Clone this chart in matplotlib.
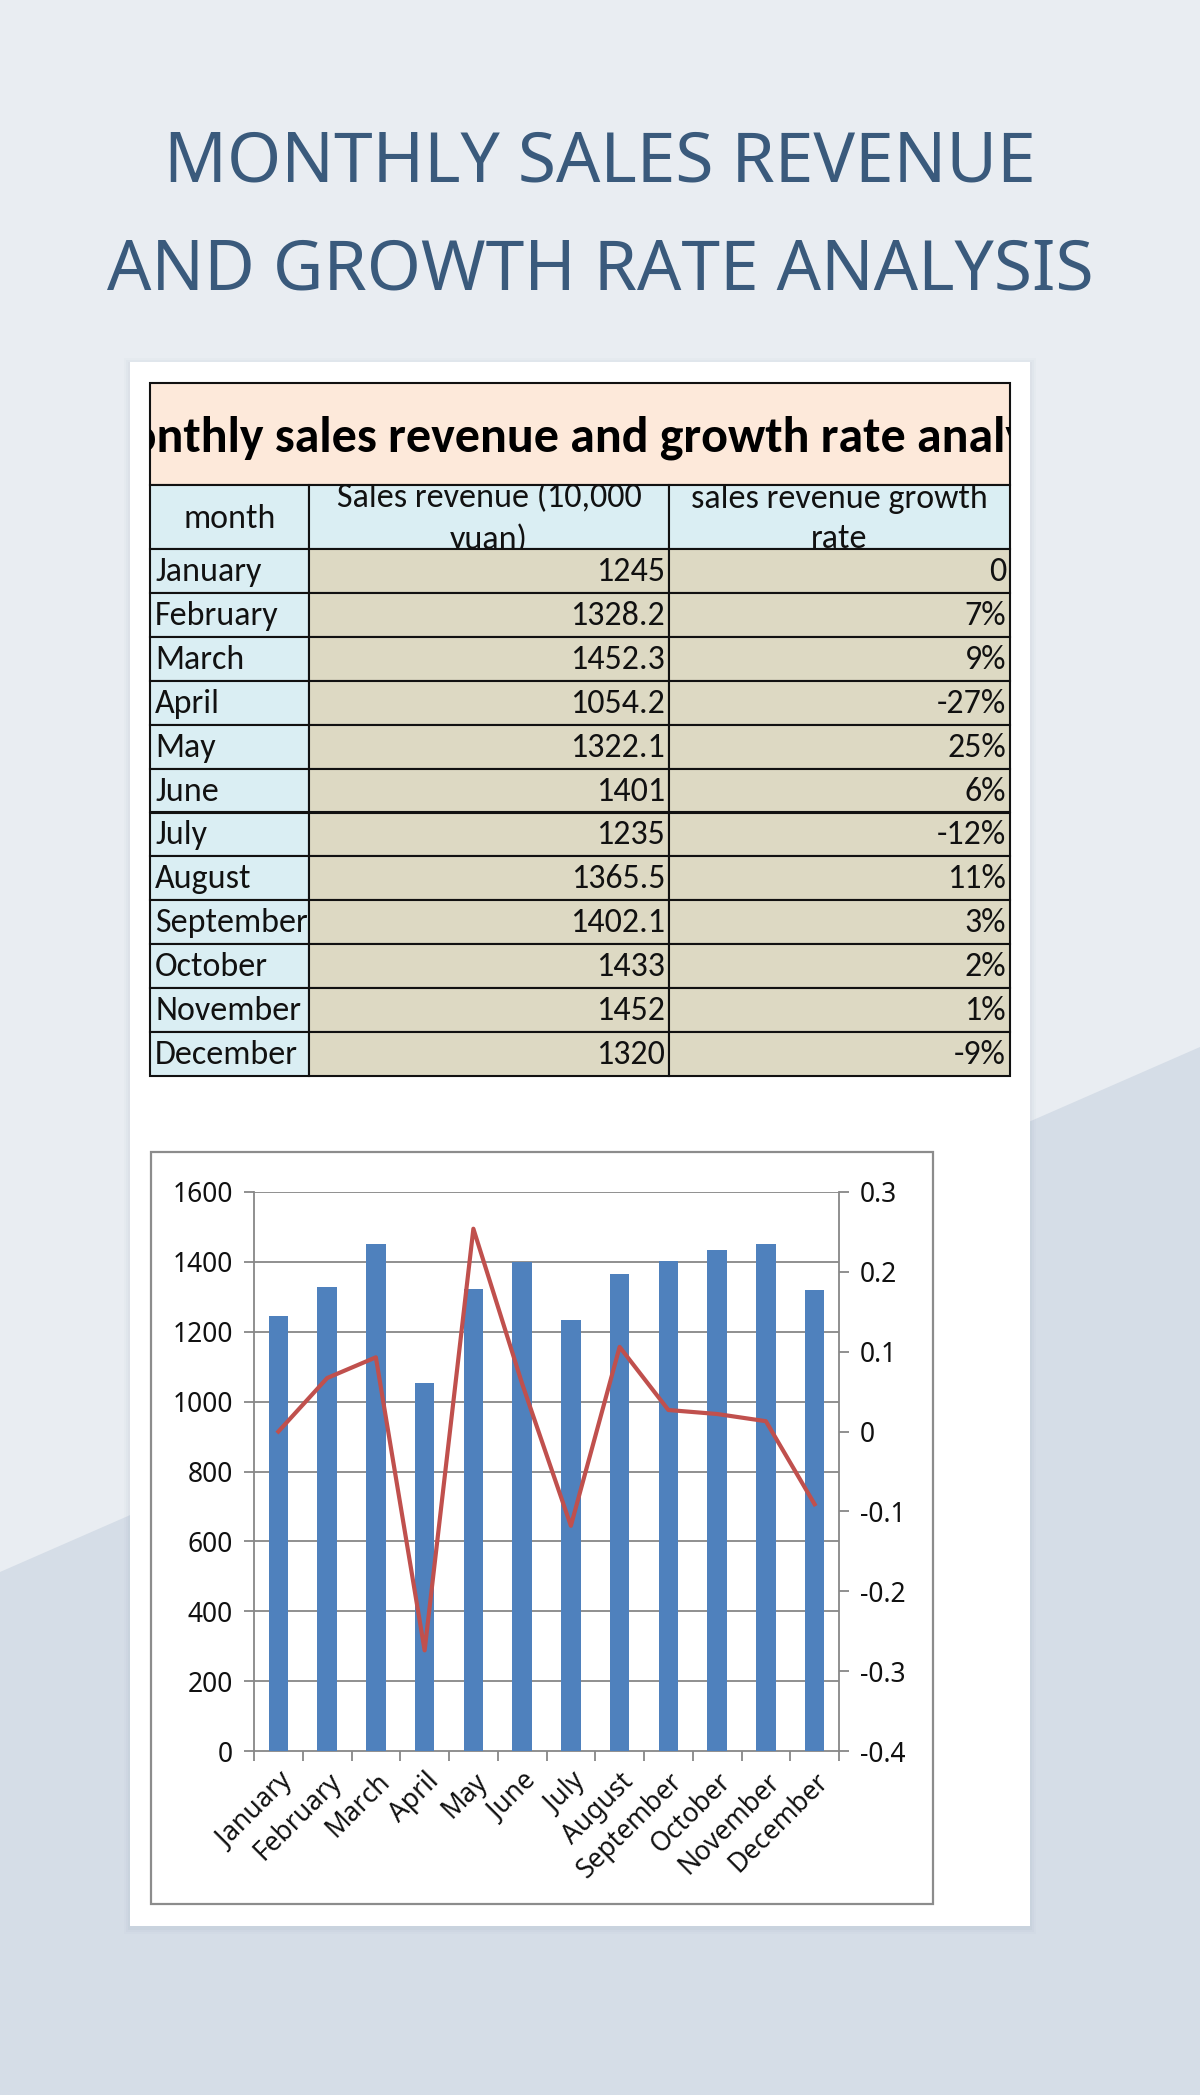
import matplotlib
matplotlib.use("Agg")
import matplotlib.pyplot as plt
from matplotlib.patches import Rectangle, Polygon
from matplotlib import font_manager
import numpy as np

# ---------------- data ----------------
months = ["January", "February", "March", "April", "May", "June", "July",
          "August", "September", "October", "November", "December"]
revenue = [1245, 1328.2, 1452.3, 1054.2, 1322.1, 1401, 1235, 1365.5, 1402.1, 1433, 1452, 1320]
revenue_labels = ["1245", "1328.2", "1452.3", "1054.2", "1322.1", "1401", "1235",
                  "1365.5", "1402.1", "1433", "1452", "1320"]
growth = [0.0, 0.067, 0.093, -0.274, 0.254, 0.060, -0.118, 0.106, 0.027, 0.022, 0.013, -0.091]
growth_labels = ["0", "7%", "9%", "-27%", "25%", "6%", "-12%", "11%", "3%", "2%", "1%", "-9%"]
left_ticks = [0, 200, 400, 600, 800, 1000, 1200, 1400, 1600]
right_ticks = [-0.4, -0.3, -0.2, -0.1, 0.0, 0.1, 0.2, 0.3]
right_tick_labels = ["-0.4", "-0.3", "-0.2", "-0.1", "0", "0.1", "0.2", "0.3"]
page_title = ["MONTHLY SALES REVENUE", "AND GROWTH RATE ANALYSIS"]
table_title = "Monthly sales revenue and growth rate analysis"
headers = ["month", "Sales revenue (10,000\nyuan)", "sales revenue growth\nrate"]

installed = {f.name for f in font_manager.fontManager.ttflist}


def pick(*names):
    fams = [n for n in names if n in installed]
    return fams + ["DejaVu Sans"]


TITLE_FONT = pick("Noto Sans CJK SC", "Noto Sans")
TABLE_FONT = pick("Carlito", "Liberation Sans Narrow", "Lato", "Noto Sans")
CHART_FONT = pick("Noto Sans CJK SC", "Noto Sans")

W, H = 1200, 2095
fig = plt.figure(figsize=(W / 100, H / 100), dpi=100)
fig.patch.set_facecolor("#e9edf2")

bg = fig.add_axes([0, 0, 1, 1])
bg.set_xlim(0, W)
bg.set_ylim(H, 0)
bg.axis("off")

# background diagonal
bg.add_patch(Polygon([[0, 1572], [W, 1047], [W, H], [0, H]], closed=True,
                     facecolor="#d5dde7", edgecolor="none", zorder=0))

# page title
bg.text(W / 2, 163, page_title[0], ha="center", va="center", fontsize=50,
        color="#3a5a7c", family=TITLE_FONT, fontweight="light")
bg.text(W / 2, 271, page_title[1], ha="center", va="center", fontsize=50,
        color="#3a5a7c", family=TITLE_FONT, fontweight="light")

# card with shadow
for i, a in enumerate([0.05, 0.04, 0.03]):
    d = (i + 1) * 2
    bg.add_patch(Rectangle((130 - d, 362 - d + 2), 900 + 2 * d, 1564 + 2 * d,
                           facecolor="#8090a8", alpha=a, edgecolor="none", zorder=1))
bg.add_patch(Rectangle((130, 362), 900, 1564, facecolor="white", edgecolor="none", zorder=2))

# ---------------- table ----------------
tx0, tx1 = 150, 1010
c1, c2 = 309, 669
ty_title0, ty_title1 = 383, 485
ty_head1 = 549
row_h = (1076 - 549) / 12


def cell(x, y, w, h, fc):
    r = Rectangle((x, y), w, h, facecolor=fc, edgecolor="#111111", lw=1.5, zorder=3)
    bg.add_patch(r)
    return r


r = cell(tx0, ty_title0, tx1 - tx0, ty_title1 - ty_title0, "#fde9da")
t = bg.text((tx0 + tx1) / 2 + 4, (ty_title0 + ty_title1) / 2 + 4, table_title, ha="center",
            va="center", fontsize=36, fontweight="bold", color="black", family=TABLE_FONT,
            zorder=4, clip_on=True)
t.set_clip_path(r)

hdr_bounds = [(tx0, c1), (c1, c2), (c2, tx1)]
for (a, b), txt in zip(hdr_bounds, headers):
    r = cell(a, ty_title1, b - a, ty_head1 - ty_title1, "#daeef3")
    t = bg.text((a + b) / 2, (ty_title1 + ty_head1) / 2 + 2, txt, ha="center", va="center",
                fontsize=24.5, color="#111111", family=TABLE_FONT, linespacing=1.4,
                zorder=4, clip_on=True)
    t.set_clip_path(r)

for i in range(12):
    y0 = ty_head1 + i * row_h
    cell(tx0, y0, c1 - tx0, row_h, "#daeef3")
    cell(c1, y0, c2 - c1, row_h, "#ddd9c3")
    cell(c2, y0, tx1 - c2, row_h, "#ddd9c3")
    yc = y0 + row_h / 2 + 1
    bg.text(tx0 + 5, yc, months[i], ha="left", va="center", fontsize=24.5,
            color="#111111", family=TABLE_FONT, zorder=4)
    bg.text(c2 - 4, yc, revenue_labels[i], ha="right", va="center", fontsize=24.5,
            color="#111111", family=TABLE_FONT, zorder=4)
    bg.text(tx1 - 4, yc, growth_labels[i], ha="right", va="center", fontsize=24.5,
            color="#111111", family=TABLE_FONT, zorder=4)

# chart frame
bg.add_patch(Rectangle((151, 1152), 782, 752, facecolor="white", edgecolor="#8c8c8c",
                       lw=1.6, zorder=3))

# ---------------- chart ----------------
pl, pr, pt, pb = 254, 839, 1192, 1751
ax = fig.add_axes([pl / W, 1 - pb / H, (pr - pl) / W, (pb - pt) / H])
ax.set_zorder(5)
ax.patch.set_alpha(0)
x = np.arange(len(months))
ax.bar(x, revenue, width=0.4, color="#4f81bd", zorder=3)
ax.set_xlim(-0.5, 11.5)
ax.set_ylim(0, 1600)
ax.set_yticks(left_ticks)
ax.set_yticklabels([str(v) for v in left_ticks])
for v in left_ticks[1:]:
    ax.axhline(v, color="#878787", lw=1.3, zorder=1)
ax.set_xticks(np.arange(-0.5, 12, 1))
ax.set_xticklabels([])
ax.set_xticks(x, minor=True)
ax.set_xticklabels(months, minor=True, rotation=45, ha="right", rotation_mode="anchor",
                   fontsize=19, family=CHART_FONT, color="#111111")
ax.tick_params(axis="x", which="major", length=7, width=1.3, color="#878787", direction="out")
ax.tick_params(axis="x", which="minor", length=0, pad=12)
ax.tick_params(axis="y", length=7, width=1.3, color="#878787", labelsize=19,
               labelcolor="#111111", pad=8)
for lab in ax.get_yticklabels():
    lab.set_family(CHART_FONT)
for s in ["top", "right"]:
    ax.spines[s].set_visible(False)
for s in ["left", "bottom"]:
    ax.spines[s].set_color("#878787")
    ax.spines[s].set_linewidth(1.3)

ax2 = ax.twinx()
ax2.plot(x, growth, color="#c0504d", lw=3, zorder=4)
ax2.set_ylim(-0.4, 0.3)
ax2.set_yticks(right_ticks)
ax2.set_yticklabels(right_tick_labels)
ax2.tick_params(axis="y", length=7, width=1.3, color="#878787", labelsize=19,
                labelcolor="#111111", pad=8)
for lab in ax2.get_yticklabels():
    lab.set_family(CHART_FONT)
for s in ["top", "left", "bottom"]:
    ax2.spines[s].set_visible(False)
ax2.spines["right"].set_color("#878787")
ax2.spines["right"].set_linewidth(1.3)

fig.savefig("out.png", dpi=100, facecolor=fig.get_facecolor())
